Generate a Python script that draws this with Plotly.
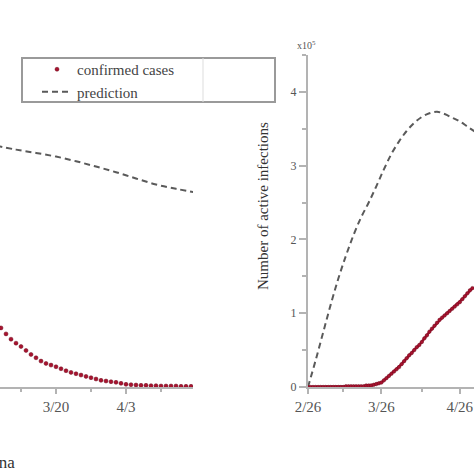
import plotly.graph_objects as go
import pandas as pd

# ---------------- data ----------------
# Left panel (China), active infections (scaled units)
left_confirmed = [1.78, 1.60, 1.44, 1.32, 1.22, 1.10, 0.98, 0.88, 0.78, 0.71,
                  0.66, 0.61, 0.55, 0.49, 0.44, 0.40, 0.36, 0.32, 0.28, 0.24,
                  0.20, 0.18, 0.16, 0.14, 0.11, 0.08, 0.07, 0.06, 0.05, 0.05,
                  0.04, 0.04, 0.03, 0.03, 0.03, 0.03, 0.02, 0.02, 0.02]
left_confirmed_start = "2020-03-09"
left_prediction = [7.27, 7.15, 7.05, 6.94, 6.80, 6.64, 6.47, 6.28, 6.10, 5.97, 5.86]
left_prediction_start = "2020-03-08"
left_prediction_step = "4D"

# Right panel, active infections (x10^5)
right_confirmed = [0.00, 0.00, 0.00, 0.00, 0.00, 0.00, 0.00, 0.00, 0.00, 0.00,
                   0.00, 0.00, 0.00, 0.00, 0.00, 0.01, 0.01, 0.01, 0.01, 0.01,
                   0.01, 0.01, 0.01, 0.02, 0.02, 0.02, 0.03, 0.04, 0.05, 0.06,
                   0.09, 0.12, 0.15, 0.18, 0.21, 0.24, 0.27, 0.31, 0.35, 0.39,
                   0.43, 0.46, 0.50, 0.54, 0.57, 0.61, 0.66, 0.70, 0.75, 0.79,
                   0.83, 0.87, 0.91, 0.94, 0.97, 1.00, 1.03, 1.06, 1.09, 1.12,
                   1.15, 1.19, 1.23, 1.27, 1.31, 1.34]
right_confirmed_start = "2020-02-26"
right_prediction = [0.00, 0.36, 0.74, 1.12, 1.47, 1.78, 2.06, 2.30, 2.50, 2.72,
                    2.95, 3.16, 3.33, 3.47, 3.58, 3.66, 3.71, 3.73, 3.70, 3.65,
                    3.60, 3.53, 3.46]
right_prediction_start = "2020-02-26"
right_prediction_step = "3D"

left_tickvals = ["2020-03-20", "2020-04-03"]
left_ticktext = ["3/20", "4/3"]
left_minor = ["2020-03-13", "2020-03-27", "2020-04-10"]
right_tickvals = ["2020-02-26", "2020-03-26", "2020-04-26"]
right_ticktext = ["2/26", "3/26", "4/26"]
right_minor = ["2020-03-11", "2020-04-11"]
right_ytickvals = [0, 1, 2, 3, 4]

legend_names = ["confirmed cases", "prediction"]
y_title = "Number of active infections"
caption = "(a) China"

# ---------------- figure ----------------
W = H = 474
FONT = "Liberation Serif"
RED = "#a8132f"
DASH_GRAY = "#5a5a5a"
AXIS = "#b3b3b3"

ld = pd.date_range(left_confirmed_start, periods=len(left_confirmed))
lp = pd.date_range(left_prediction_start, periods=len(left_prediction), freq=left_prediction_step)
rd = pd.date_range(right_confirmed_start, periods=len(right_confirmed))
rp = pd.date_range(right_prediction_start, periods=len(right_prediction), freq=right_prediction_step)

fig = go.Figure()
fig.add_trace(go.Scatter(x=lp, y=left_prediction, mode="lines", line=dict(color=DASH_GRAY, width=2, dash="6px,4px", shape="spline"),
                         xaxis="x", yaxis="y", showlegend=False))
fig.add_trace(go.Scatter(x=ld, y=left_confirmed, mode="markers", name=legend_names[0],
                         marker=dict(color=RED, size=4, line=dict(color="#6e0c1e", width=0.5)),
                         xaxis="x", yaxis="y", showlegend=True))
fig.add_trace(go.Scatter(x=rp, y=right_prediction, mode="lines", name=legend_names[1],
                         line=dict(color=DASH_GRAY, width=2, dash="6px,4px", shape="spline"),
                         xaxis="x2", yaxis="y2", showlegend=True))
fig.add_trace(go.Scatter(x=rd, y=right_confirmed, mode="markers+lines",
                         line=dict(color=RED, width=2.5),
                         marker=dict(color=RED, size=3.5, line=dict(color="#6e0c1e", width=0.5)),
                         xaxis="x2", yaxis="y2", showlegend=False))

ybot = 1 - 387 / H
ytop = 1 - 55 / H

fig.update_layout(
    template="none",
    width=W, height=H, margin=dict(l=0, r=0, t=0, b=0, autoexpand=False),
    paper_bgcolor="white", plot_bgcolor="white",
    font=dict(family=FONT, color="#444"),
    xaxis=dict(domain=[0, 193 / W], type="date",
               range=["2020-03-08 19:12", "2020-04-16 09:36"],
               tickmode="array", tickvals=left_tickvals, ticktext=left_ticktext,
               ticks="outside", ticklen=5, tickcolor=AXIS, tickwidth=1.5,
               minor=dict(tickmode="array", tickvals=left_minor, ticks="outside", ticklen=3, tickcolor=AXIS),
               showline=True, linecolor=AXIS, linewidth=2, showgrid=False, zeroline=False,
               automargin=False,
               tickfont=dict(family=FONT, size=15, color="#555"), anchor="y"),
    yaxis=dict(domain=[ybot, ytop], range=[0, 10], visible=False, anchor="x", automargin=False),
    xaxis2=dict(domain=[308 / W, 1], type="date",
                range=["2020-02-26", "2020-05-01 15:00"],
                tickmode="array", tickvals=right_tickvals, ticktext=right_ticktext,
                ticks="outside", ticklen=5, tickcolor=AXIS, tickwidth=1.5,
                minor=dict(tickmode="array", tickvals=right_minor, ticks="outside", ticklen=3, tickcolor=AXIS),
                showline=True, linecolor=AXIS, linewidth=2, showgrid=False, zeroline=False,
                automargin=False,
                tickfont=dict(family=FONT, size=15, color="#555"), anchor="y2"),
    yaxis2=dict(domain=[ybot, ytop], range=[0, 4.5],
                tickmode="array", tickvals=right_ytickvals,
                ticks="outside", ticklen=7, tickcolor=AXIS, tickwidth=1.5,
                minor=dict(dtick=0.5, ticks="outside", ticklen=4, tickcolor=AXIS),
                showline=True, linecolor=AXIS, linewidth=2, showgrid=False, zeroline=False,
                automargin=False,
                tickfont=dict(family=FONT, size=12, color="#555"), anchor="x2"),
    legend=dict(x=37 / W, y=1 - 53 / H, xanchor="left", yanchor="top",
                bgcolor="rgba(0,0,0,0)", borderwidth=0,
                font=dict(family=FONT, size=15, color="#444"),
                tracegroupgap=0),
    shapes=[
        dict(type="rect", xref="paper", yref="paper",
             x0=22 / W, x1=275 / W, y0=1 - 102 / H, y1=1 - 58 / H,
             line=dict(color="#9a9a9a", width=2), fillcolor="rgba(0,0,0,0)"),
        dict(type="line", xref="paper", yref="paper",
             x0=203 / W, x1=203 / W, y0=1 - 102 / H, y1=1 - 58 / H,
             line=dict(color="#dddddd", width=1)),
    ],
    annotations=[
        dict(text=y_title, xref="paper", yref="paper", x=263 / W, y=1 - 206 / H,
             textangle=-90, showarrow=False, font=dict(family=FONT, size=15, color="#333"),
             xanchor="center", yanchor="middle"),
        dict(text="x10<sup>5</sup>", xref="paper", yref="paper", x=295 / W, y=1 - 45 / H,
             showarrow=False, font=dict(family=FONT, size=10, color="#555"),
             xanchor="left", yanchor="middle"),
        dict(text=caption, xref="paper", yref="paper", x=17 / W, y=1 - 462 / H,
             showarrow=False, font=dict(family=FONT, size=17, color="#333"),
             xanchor="right", yanchor="middle"),
    ],
)

fig.write_html("out.html", config={"displayModeBar": False},
               post_script="document.body.style.margin='0';")
